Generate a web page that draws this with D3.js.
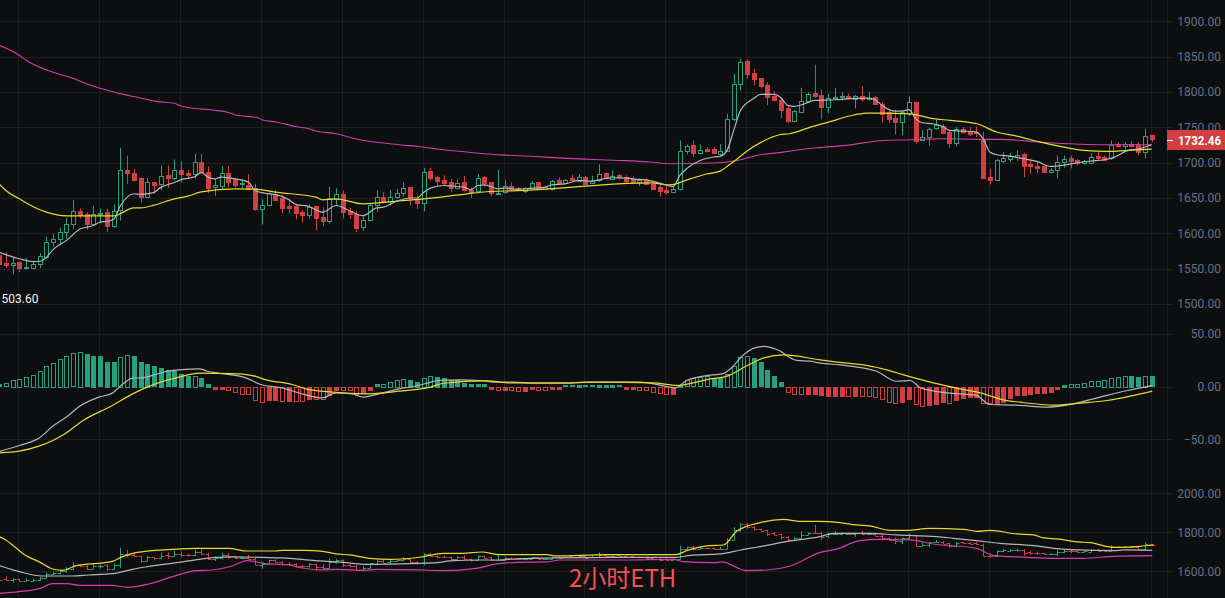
<!DOCTYPE html>
<html>
<head>
<meta charset="utf-8">
<script src="https://cdn.jsdelivr.net/npm/d3@7/dist/d3.min.js"></script>
<style>
html,body{margin:0;padding:0;background:#0d0e10;overflow:hidden}
svg{display:block}
text{font-family:Roboto,Arial,sans-serif}
</style>
</head>
<body>
<svg id="chart" width="1225" height="598"></svg>
<script>
// ---------- data ----------
const opens=[1570,1558,1555,1559,1551,1552,1557,1567,1588,1592,1602,1613,1632,1628,1614,1627,1630,1611,1632,1689,
1686,1678,1651,1672,1669,1682,1678,1689,1685,1684,1701,1687,1665,1667,1686,1677,1669,1669,1663.5,1634,
1640,1656,1650,1639,1638,1629.5,1625.7,1638,1622.4,1617,1649,1656,1631,1628,1608.7,1618.6,1640,1652,1645.5,1651.6,
1657,1665,1650,1643,1687.5,1679,1674.8,1672,1664.4,1672,1662,1659.7,1679,1672,1655.4,1657.8,1667,1664.4,1660.6,1664.4,
1672,1662.5,1662.5,1674.8,1671,1677.6,1674.8,1680.4,1671,1675.7,1684.7,1677,1681.9,1680,1676.7,1672.4,1675.7,1670,1664.9,1662,
1659,1662.5,1716.3,1724.3,1713.5,1720,1718.7,1713,1716.8,1762,1811.7,1843.3,1826.3,1819.2,1809.3,1794.2,1789,1776.8,1758.8,1771.6,
1787.1,1798,1795.2,1778.6,1790.9,1792.8,1793.8,1790.9,1794.7,1790,1792.3,1782.9,1771,1762.6,1756.9,1771.1,
1786.2,1732,1736.2,1748,1752.3,1742.8,1727.7,1748,1744.7,1743.3,1733.8,1680,1676.2,1702.2,1705,1707.9,1711.7,1697.5,1695.6,1694.7,
1686.6,1690,1700.8,1706,1703.2,1699.4,1700.3,1709.8,1708.3,1705.5,1725.8,1724.4,1726.8,1725.8,1715.4,1738.6];
const closes=[1557,1555,1558,1550,1553,1557,1568,1588,1592,1602,1613,1632,1627,1614,1628,1629,1610,1632,1689,1685,
1676,1651,1672,1668,1681,1678,1689,1683,1682,1701,1687,1665,1668,1685,1673,1668,1670.5,1663.5,1634,1640,
1657,1648,1636.5,1636.5,1628.5,1625.7,1637,1621.4,1617,1650,1656,1630,1627,1608,1619,1640.3,1651.6,1645,1651.6,1657.3,
1664,1650,1642.7,1687,1677.6,1673.4,1671,1664,1671.5,1660.6,1659.7,1678.6,1670.5,1657,1657,1666.8,1663,1661.6,1664.4,1671.5,
1662,1665,1674.3,1670.5,1675.3,1675.3,1680,1670.5,1674.3,1684,1677.6,1680.9,1679,1674.8,1672,1675.7,1670,1663.4,1659.2,1659.7,
1663,1716.8,1723.9,1713.5,1718.2,1717.3,1713,1716.8,1762,1811.7,1842.9,1824.9,1817.8,1807.9,1792.8,1788,1775.3,1758.3,1772.5,1787.6,
1797.5,1794.2,1778.2,1791.9,1792.8,1794.7,1790.9,1794.7,1790.4,1791.4,1782.4,1769.2,1761.2,1756.9,1771.1,1786.2,
1731.5,1736.2,1748,1752.7,1741.9,1727.7,1747.5,1743.8,1740,1741.9,1678.6,1676.2,1704,1707,1708.8,1710.7,1694.7,1694.7,1692.8,1686.6,
1690,1700.8,1705.5,1701.7,1698.4,1702.2,1708.3,1706.5,1704.1,1724.4,1723.5,1726.8,1724.4,1715,1738.1,1732.46];
const highs=[1575.6,1573,1566,1560,1565,1561,1572,1595,1599,1608,1622,1647.4,1635,1630,1639,1635,1635,1641,1721,1710,
1691,1679,1678.6,1672,1696,1696,1704.5,1702,1690,1712.5,1712.5,1694.6,1677,1694.6,1695,1679,1675,1684,1670,1648,
1659,1661.6,1653.5,1648,1642,1633,1641,1639.4,1637,1666,1664,1660.6,1636,1632,1625,1642,1660.6,1658,1661.6,1663,
1672,1665,1653.5,1692.7,1692.7,1681.4,1682,1677,1677,1681,1665,1684,1681.4,1672,1690,1675.7,1672,1666,1665,1674,
1672.4,1666.8,1675.7,1679,1677,1683,1684,1681,1681.4,1697.4,1684.7,1689,1684,1681.9,1680.4,1677,1677,1672.4,1670,1666.3,
1666.3,1731.4,1725.8,1731.4,1725.8,1722,1722,1725.8,1769,1825.9,1847,1846.2,1832.9,1819.2,1813.6,1801.3,1791.9,1779.6,1774.9,1806,
1799.9,1838.6,1803.2,1797.5,1806,1799.9,1797.5,1796,1808.4,1799.9,1794.7,1785.7,1773.9,1773.9,1773.9,1793.7,
1786.7,1746.6,1749.4,1760.8,1755,1746.6,1750.4,1750.4,1750.4,1751.3,1743.8,1691.4,1705.5,1715,1713.5,1717.3,1713.5,1705.5,1700.8,1695.6,
1692.8,1710.2,1710.2,1710.2,1705,1704.1,1713.5,1715,1710.2,1731.5,1729.1,1729.1,1730.5,1729.1,1748,1739.5];
const lows=[1554.4,1551,1542,1545,1549,1550,1551,1564,1580.4,1583,1592,1606,1621,1605,1612,1614,1602,1608,1618,1670,
1675,1643,1650,1656,1661,1664,1675,1672,1677,1677,1685,1657,1653,1662,1665,1665,1664,1661,1632,1612.5,
1638,1645.5,1628.5,1628.5,1619.5,1615,1621,1604,1610,1614,1639,1621,1620.5,1601.6,1603,1617,1630,1642.7,1639.4,1649,
1652,1640,1634.6,1631,1675,1666,1667.7,1658,1663.5,1659,1650,1658,1666,1652,1655,1656,1660.6,1659.7,1657,1662.5,
1661.6,1661.6,1660.6,1669.6,1670,1674.3,1672.4,1670,1670.5,1672.9,1675.7,1675.7,1676.7,1671.5,1671,1666.8,1669,1662,1652,1655,
1658,1660.6,1711.6,1707.8,1711.6,1714.4,1712.5,1709.7,1715,1758.8,1802.2,1818.8,1809.3,1804.6,1781,1787,1762.6,1756,1757.9,1770.6,
1786.2,1791.9,1761.2,1770.1,1789,1788,1790,1776.8,1785.7,1788,1781.5,1757.4,1756.4,1739.9,1739,1765.9,
1726.8,1731.5,1723.9,1746.6,1740,1721,1723,1741,1738,1736.2,1677.2,1669.2,1674.8,1699.4,1700.8,1702.2,1679.5,1684.3,1685.2,1685.7,
1685.2,1677.7,1692.8,1691.8,1696,1697,1697.5,1704.1,1702.2,1704.1,1721.1,1719.2,1721.1,1710.2,1706,1729.1];

const maFastIdx=[0,3,5,6,7,8,10,12,14,15,16,17,18,20,21,23,24,26,27,29,30,31,32,33,35,37,38,40,41,43,44,46,48,50,52,54,56,57,59,
61,62,63,64,66,67,69,70,71,72,74,75,77,79,81,82,84,86,88,89,91,93,95,96,98,100,101,102,104,106,107,108,109,110,112,113,115,116,117,118,119.5,121,124,127,129,130,131,133,134,135,
136,137,138.5,140,141,143,145,146,147,148,150,152,154,156,158,160,162,164,165.5,167.5,169,171];
const maFast=[1573,1564,1560,1560.5,1566,1577,1590,1606,1611,1616,1617,1620,1639,1656,1655,1658,1665,1672,1676,1680,1686,1679.5,1677,1679.5,1677,1672.4,1660.6,1656,1655,1647.4,1641,1638,1630,1639.4,1632,1625,1636,1637,1645.5,
1650,1650,1658,1664,1667.7,1667,1665.4,1661.6,1667.7,1668.6,1663,1664,1662.5,1664,1665.5,1668.6,1670,1674.8,1673.8,1675.7,1678.6,1678,1676.2,1675.7,1671,1666.3,1681.9,1691.3,1703,1708,1709,1717.3,1745.6,1773.9,1791,1796.6,1796.6,1791.9,1781,1779.6,1783.4,1788,1789,1791,1791.4,1789,1781,1773,1773,1775,
1762.2,1756.5,1755,1751,1745.6,1744.7,1743.3,1733.8,1715,1711.2,1709.3,1705.5,1701.7,1694.7,1696.6,1699.9,1702.2,1704.1,1707.9,1717.3,1719.2,1725.3];

const maMidIdx=[0,1,3,5,7,10,17,20,21,23,26,28,30,35,38,41,47,48,50,54,59,63,69.4,72.3,76.8,82.7,89.2,93.1,96.6,99.5,102.5,105,107,108.2,109.6,111.1,113.1,115.8,117.3,120.3,123.3,126.2,128.7,130.7,135.1,138.6,141.1,145.1,148,151,154.5,158,161,164.4,167.4,171];
const maMid=[1670,1660.6,1648.8,1637.9,1629.9,1624.7,1624.7,1636,1636,1639.8,1648.8,1652.6,1658.7,1663,1662.5,1658.2,1651.2,1647.4,1648.8,1641.7,1645.5,1648.8,1655.9,1658.8,1660.4,1663.7,1668.3,1670.6,1671.5,1668.5,1677,1684,1688,1696,1705.9,1717.3,1729,1739.5,1740.9,1750,1758,1766,1770,1770.2,1769,1762.2,1759.8,1755,1743.3,1737.6,1729.1,1722,1717.3,1715.9,1717.3,1719.2];

const maSlowIdx=[0,3,4,8.4,11.4,12.4,17.8,20.8,23.3,26.2,27,34.2,35.1,38.4,39.1,41.1,44.1,46,47,50,53,59.4,62.5,65.4,70.4,74.4,79.3,84.3,91.2,96.6,99.5,106,109.4,112.4,116.3,121.3,125.7,131.2,135.5,139.6,145.6,148.6,154.5,158.5,163.4,171];
const maSlow=[1866,1851.9,1844.8,1826.8,1817.9,1813.6,1798,1791.9,1786.7,1783.4,1780.1,1770.7,1767.4,1763.6,1760.3,1757.5,1750.8,1748,1744.7,1740.9,1733.4,1725.4,1722.5,1718.9,1714,1711,1708.8,1706,1703.4,1701,1698.4,1699.4,1703,1710.2,1714.9,1721,1724.4,1731.4,1732.4,1733.8,1733,1733,1729,1726.8,1725.3,1725.3];

const macdHist=[1.9,3.2,6.3,7.3,8.9,11,14.9,19.6,22.5,26.3,29,31.6,32.9,30.4,29.4,28.5,23.7,22.8,28.2,30,29.4,23.7,21.8,19,17.7,15.2,14.5,12.3,10.1,10.1,7.6,2.8,-1.9,-1.9,-2.5,-4.4,-6.3,-7,-12,-13.9,
-12.3,-12.3,-13.4,-13,-13.2,-13.4,-11.4,-11.3,-11.5,-7.6,-2.8,-3.2,-3.2,-6.6,-5.7,-2.8,1.9,2.5,4.4,6.3,7.3,6.6,4.7,8.2,10.1,9.2,8.2,6.3,6,3.2,1.9,1.9,1.9,-1.9,-2.5,-2.8,-2.5,-3.5,-3.8,-1.9,
-2.8,-2.5,-1.6,-1.9,1.3,1.3,1.6,1,1,1.6,1.6,1.6,1,-1.6,-2,-2.5,-3.2,-4.4,-5.4,-6.3,-6.3,1.6,5.7,7.9,8.9,9.5,7.9,8.2,12,19.6,27.8,29,27.2,22.8,15.8,10.4,3.8,-4.4,-7,-7,
-6.6,-6.6,-7.9,-8.2,-8.5,-8.5,-8.2,-8.5,-8.2,-8.9,-9.8,-11.7,-13.9,-15.2,-14.5,-11.4,-15.8,-17.7,-17,-16.4,-14.5,-15.2,-12.3,-10.1,-9.5,-9.2,-14.9,-14.9,-15.8,-13.9,-10.8,-7.9,-7.3,-6.6,-5.4,-5.4,-5,-1.9,1.6,2.5,2.5,3.5,5,5,6.3,8.2,9.2,10.1,10.4,8.9,10.1,9.5];
const macdHollowIdx=[1,2,3,4,5,6,7,8,9,10,11,12,18,19,29,34,35,36,37,38,39,42,44,45,47,48,51,52,53,57,58,59,60,63,64,74,76,77,80,81,95,96,97,98,99,102,103,104,105,108,109,110,111,117,118,119,126,128,129,130,131,132,133,136,137,141,146,147,159,160,161,162,163,164,165,166,167,170];

const difIdx=[0,3,6,7.9,10.1,11.9,14.8,16.8,18.5,19.8,21.2,23.2,24.7,26.7,29.7,30.9,32.6,36.6,38.8,42,45,48,50,52.4,54,55.4,59.4,61.5,63.5,65,68.4,71.4,73.9,76.3,79.3,84.3,86.7,91.2,95.1,99.1,100.3,102,105,107.3,108.5,110.5,112,113.5,115.4,118.4,120.4,121.9,124.8,130.2,133.2,135.2,136.7,140.6,145,147,151,155.5,158.4,162.4,167.4,171.1];
const dif=[-61.7,-56,-48.7,-38,-28.5,-19,-10.1,-6.3,3.1,7.9,8.2,11.4,14.2,15.8,16.8,14.5,12.6,8.2,1.9,-1.3,-7,-10.8,-6,-7,-10.1,-8.5,-2.2,0,3.1,5.7,6.3,5.7,4.1,4.1,3.1,3.1,4.1,4.1,4.1,0,-1.3,5.7,10.4,12,16.8,30.4,36.4,38,35.1,24.7,24,22.1,20.5,14.5,5,5.7,-1.3,-6,-8.5,-17.1,-17.7,-19.6,-17.7,-11.7,-3.8,0.9];
const deaIdx=[0,3,5.9,9.9,12.3,16.8,19.8,23.2,26.7,29.7,34.6,37.6,39.6,43.5,45.5,49.5,54.4,59.4,64,65.9,72.4,75.8,84.3,89.2,97.1,100.6,103,105,108,111,113.5,116.4,121.8,125.8,128.2,131.7,134.2,138.6,142.6,145.6,149,151.5,156.5,160.4,164.4,167.8,171.1];
const dea=[-63,-61.4,-56.6,-44.3,-32.9,-18,-7,2.5,8.9,12.6,12.3,10.4,6.3,1.9,-2.2,-5.4,-7,-4.4,-0.6,3.1,5.4,3.5,3.5,4.1,3.5,1,3.5,6.6,9.8,19.9,27.2,30,25.3,22.1,20.5,15.8,11,3.5,-2.2,-6,-12.7,-14.9,-17.7,-15.8,-13.3,-9.2,-4.4];

const bollUpIdx=[0,1,2.4,3.9,5.9,7.9,9.4,11.3,16.8,18.3,20.3,21.7,25.7,29.2,34.1,36.6,41,42,45.5,48,50,52,55,58,62.4,65.9,68.8,71.6,74.3,81.2,82.7,90.1,100.5,102,105,107.5,109.4,112.9,116.4,118.8,121.8,124.8,127.2,129.2,132.2,134.7,138.1,143.1,145.1,147,151,153.5,155,157,160,162,164.4,165.9,169.3,171.3];
const bollUp=[1777.8,1760.7,1723,1682,1649.6,1612,1605,1627.4,1651.3,1675.2,1695.8,1702.6,1712.8,1718,1718,1704,1704,1707.7,1707.7,1702.6,1689,1683.8,1666.7,1661.6,1672,1692.3,1692.3,1699,1685.5,1685.5,1678.6,1685.5,1685.5,1706,1730,1735,1804.4,1850,1866.7,1856.4,1856.4,1849.6,1837.6,1832.5,1810.3,1810.3,1820.5,1815.4,1805.2,1810.3,1791.5,1786.4,1771,1765.8,1750.5,1747,1726.5,1723.1,1728.2,1735];
const bollMidIdx=[0,3,6.4,10.8,13.3,16.8,19.8,21.7,26.7,29.7,34.1,38.6,42,47,51,54,62.4,64.9,66.9,71.3,73.8,77.3,82.2,92,100.5,102.5,107,110,112.9,117.4,121.8,123.8,129.2,133.2,139.1,141.6,145,148.5,153.5,156.5,160,165.4,166.8,171.1];
const bollMid=[1629,1598.3,1576,1576,1581,1588,1610,1622,1646,1661.6,1673.5,1671.8,1668.4,1654.7,1646.2,1636,1641,1644.5,1653,1658,1658,1665,1668.4,1671.8,1671.8,1682,1689,1709.4,1726.5,1755.6,1777.8,1794.9,1794.9,1786.4,1777.8,1769.3,1757.3,1743.6,1731.6,1718,1709.4,1706,1709.4,1707.7];
const bollLowIdx=[0,3,6.1,7.9,10.1,11.8,16.8,19,22.2,26.7,29.2,31.6,34.6,36.8,39.1,43,45,48,50,54.4,55.9,62.4,65.9,70.8,73.8,76.8,81.2,83.2,93.1,100,101.5,106,107.2,110.9,113.9,117.4,121.8,124.3,127.7,130.7,135.2,138.6,145,147.5,152.5,156.5,160.9,165.4,171.1];
const bollLow=[1487,1495.7,1512.8,1536.8,1536.8,1528.3,1528.3,1518,1535,1583,1603.4,1606.8,1627.4,1655,1641,1632.4,1617,1607,1610,1605,1610,1606.8,1603.4,1615.4,1637.6,1646,1648,1658,1658,1661.6,1649.6,1644.5,1648,1603.4,1606.8,1627.4,1697,1714,1757.3,1764,1760.7,1740,1718,1682,1671.8,1666.7,1666.7,1677,1680.4];

const priceTicks=[1900,1850,1800,1750,1700,1650,1600,1550,1500];
const macdTicks=[50,0,-50];
const bollTicks=[2000,1800,1600];
const gridIdx=[3,15,27,39,51,63,75,87,99,111,123,135,147,159,171];
const lastPrice=1732.46;
const lowMarker="503.60";
const title="2小时ETH";

// ---------- scales ----------
const svg=d3.select("#chart");
const BG="#0d0e10",GRID="#1d1f22",UP="#26a17c",DOWN="#d13f40",AXIS="#667089",
      C_W="#b4b6b8",C_Y="#e6da2c",C_M="#cf3fa4";
const x=d3.scaleLinear().domain([0,171]).range([-0.9,1151.6]);
const yP=d3.scaleLinear().domain([1900,1500]).range([21.3,304]);
const yM=d3.scaleLinear().domain([50,-50]).range([333.8,439.2]);
const yB=d3.scaleLinear().domain([2000,1600]).range([493.3,571.3]);
const crisp=v=>Math.round(v)+0.5;

svg.append("rect").attr("width",1225).attr("height",598).attr("fill",BG);

// grid
const grid=svg.append("g").attr("stroke",GRID).attr("stroke-width",1);
grid.selectAll("line.v").data(gridIdx).join("line").attr("class","v")
  .attr("x1",d=>crisp(x(d))-1).attr("x2",d=>crisp(x(d))-1).attr("y1",0).attr("y2",598);
[[priceTicks,yP],[macdTicks,yM],[bollTicks,yB]].forEach(([t,s])=>{
  grid.append("g").selectAll("line").data(t).join("line")
    .attr("x1",0).attr("x2",1172).attr("y1",d=>crisp(s(d))).attr("y2",d=>crisp(s(d)));
});
grid.append("line").attr("x1",1167.5).attr("x2",1167.5).attr("y1",0).attr("y2",598);

// candles
const idxAll=d3.range(opens.length);
const upColor=i=>closes[i]>=opens[i]?UP:DOWN;
function candles(g,y){
  g.selectAll("line").data(idxAll).join("line")
    .attr("x1",i=>crisp(x(i))).attr("x2",i=>crisp(x(i)))
    .attr("y1",i=>y(highs[i])).attr("y2",i=>y(lows[i]))
    .attr("stroke",upColor);
  g.selectAll("rect").data(idxAll).join("rect")
    .attr("x",i=>crisp(x(i))-2).attr("width",4)
    .attr("y",i=>crisp(y(Math.max(opens[i],closes[i]))))
    .attr("height",i=>Math.max(1,Math.round(Math.abs(y(opens[i])-y(closes[i])))))
    .attr("fill",i=>closes[i]>=opens[i]?BG:DOWN)
    .attr("stroke",upColor);
}
// the lower pane shows the same prices as open-high-low-close bars
function ohlcBars(g,y){
  const bar=g.selectAll("path").data(idxAll).join("path")
    .attr("fill","none").attr("stroke",upColor)
    .attr("d",i=>{
      const cx=crisp(x(i));
      return `M${cx},${y(highs[i])}V${y(lows[i])}`+
             `M${cx-3},${crisp(y(opens[i]))}H${cx}`+
             `M${cx},${crisp(y(closes[i]))}H${cx+3}`;
    });
}
function path(g,idx,vals,y,color,w){
  const l=d3.line().x((d,i)=>x(idx[i])).y(d=>y(d)).curve(d3.curveMonotoneX);
  g.append("path").datum(vals).attr("d",l).attr("fill","none").attr("stroke",color).attr("stroke-width",w||1.2);
}
const main=svg.append("g");
candles(main.append("g"),yP);
path(main,maSlowIdx,maSlow,yP,C_M,1.1);
path(main,maMidIdx,maMid,yP,C_Y);
path(main,maFastIdx,maFast,yP,C_W);

// MACD
const mg=svg.append("g");
const hollow=new Set(macdHollowIdx);
mg.selectAll("rect").data(macdHist).join("rect")
  .attr("x",(d,i)=>crisp(x(i))-2).attr("width",4)
  .attr("y",d=>crisp(Math.min(yM(d),yM(0))))
  .attr("height",d=>Math.max(1,Math.round(Math.abs(yM(d)-yM(0)))))
  .attr("fill",(d,i)=>hollow.has(i)?BG:(d>=0?UP:DOWN))
  .attr("stroke",d=>d>=0?UP:DOWN);
path(mg,difIdx,dif,yM,C_W);
path(mg,deaIdx,dea,yM,C_Y);

// BOLL
const bg=svg.append("g");
ohlcBars(bg.append("g"),yB);
path(bg,bollLowIdx,bollLow,yB,C_M);
path(bg,bollMidIdx,bollMid,yB,C_W);
path(bg,bollUpIdx,bollUp,yB,C_Y);

// axes
function axis(s,t){
  const a=svg.append("g").attr("transform","translate(1221,0)")
    .call(d3.axisLeft(s).tickValues(t).tickSize(0).tickPadding(0).tickFormat(d3.format(".2f")));
  a.select(".domain").remove();
  a.selectAll("text").attr("fill",AXIS).style("font-size","12px").attr("text-anchor","end");
}
axis(yP,priceTicks);axis(yM,macdTicks);axis(yB,bollTicks);

// last price tag
svg.append("rect").attr("x",1167).attr("y",130).attr("width",58).attr("height",20).attr("fill","#d13f40");
svg.append("line").attr("x1",1167).attr("x2",1173).attr("y1",crisp(yP(lastPrice))).attr("y2",crisp(yP(lastPrice))).attr("stroke","#fff");
svg.append("text").attr("x",1178).attr("y",144.5).attr("fill","#fff").style("font-size","12.5px").style("font-weight","700")
  .attr("textLength",43).attr("lengthAdjust","spacingAndGlyphs").text(lastPrice.toFixed(2));

// annotations
svg.append("text").attr("x",1.5).attr("y",303).attr("fill","#eef1f5").style("font-size","12px").text(lowMarker);
svg.append("text").attr("x",569).attr("y",587).attr("fill","#f4504f")
  .style("font-family","'Noto Sans CJK SC',sans-serif").style("font-size","24px").text(title);
</script>
</body>
</html>
